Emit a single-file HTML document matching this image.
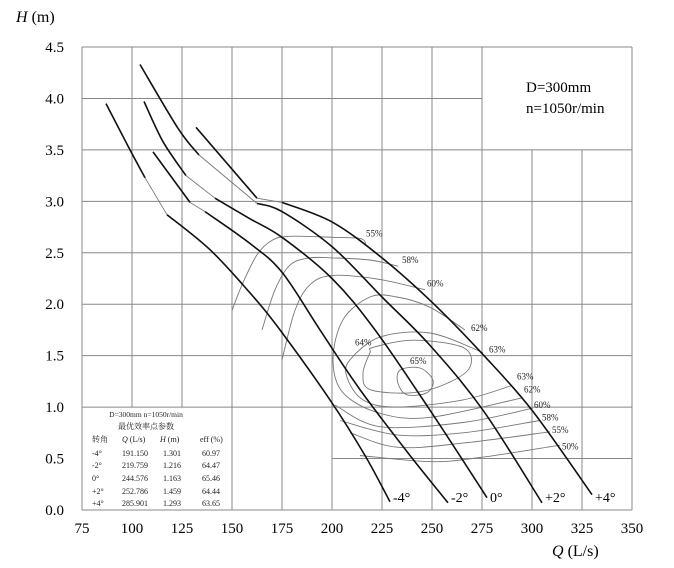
<!DOCTYPE html>
<html><head><meta charset="utf-8"><style>
html,body{margin:0;padding:0;background:#fff;}
svg{display:block;font-family:"Liberation Serif","Noto Serif CJK SC",serif;}
</style></head><body>
<svg id="chart" width="674" height="568" viewBox="0 0 674 568" xmlns="http://www.w3.org/2000/svg">
<g id="grid"></g>
<g id="contours"></g>
<g id="curves"></g>
<g id="axes"></g>
<text x="16" y="22" font-size="16"><tspan font-style="italic">H</tspan> (m)</text>
<text x="552" y="556" font-size="16"><tspan font-style="italic">Q</tspan>  (L/s)</text>
<text x="526" y="92" font-size="15">D=300mm</text>
<text x="526" y="113" font-size="15">n=1050r/min</text>
<g font-size="8" fill="#222">
<text x="146" y="417" text-anchor="middle" font-size="7.5">D=300mm   n=1050r/min</text>
<text x="146" y="429" text-anchor="middle">最优效率点参数</text>
<text x="92" y="442">转角</text>
<text x="122" y="442"><tspan font-style="italic">Q</tspan> (L/s)</text>
<text x="160" y="442"><tspan font-style="italic">H</tspan> (m)</text>
<text x="200" y="442">eff (%)</text>
<g id="tablerows"></g>
</g>
</svg>
<script>
// ---- data ----
var xTicks=[75,100,125,150,175,200,225,250,275,300,325,350];
var yTicks=[0.0,0.5,1.0,1.5,2.0,2.5,3.0,3.5,4.0,4.5];
var curveLabels=["-4°","-2°","0°","+2°","+4°"];
var topM4=[[87,3.95],[99,3.50],[106.5,3.23]];
var thinM4=[[106.5,3.23],[117.5,2.87]];
var mainM4=[[117.5,2.87],[139,2.53],[159,2.11],[174,1.75],[199,1.07],[216.5,0.53],[229,0.08]];
var topM2=[[110.5,3.48],[129,2.99]];
var thinM2=[[129,2.99],[136.5,2.90]];
var mainM2=[[136.5,2.90],[159,2.59],[175,2.31],[194,1.75],[214,1.17],[239,0.53],[258,0.07]];
var top0=[[106,3.97],[115.5,3.58],[127,3.25]];
var thin0=[[127,3.25],[141.5,3.03]];
var main0=[[141.5,3.03],[159,2.83],[175,2.65],[200,2.25],[221.5,1.75],[249,0.97],[277.5,0.12]];
var topP2=[[104,4.33],[123,3.71],[133.5,3.45]];
var thinP2=[[133.5,3.45],[162.5,2.98]];
var mainP2=[[162.5,2.98],[175,2.90],[200,2.56],[225,2.07],[249,1.60],[275.5,0.97],[305,0.07]];
var topP4=[[132,3.72],[162.5,3.03]];
var thinP4=[[162.5,3.03],[175,2.99]];
var mainP4=[[175,2.99],[200,2.80],[225,2.45],[250.5,2.01],[275.5,1.51],[300,0.97],[330,0.15]];
var e55u=[[150,1.94],[155.5,2.21],[162.5,2.48],[170,2.62],[179,2.66],[200.5,2.65],[214,2.64],[217,2.59]];
var e58u=[[165,1.75],[171.5,2.14],[179,2.38],[189,2.45],[200.5,2.45],[219,2.43],[233,2.37]];
var e60u=[[175,1.46],[181.5,1.94],[189,2.19],[200.5,2.28],[224,2.24],[246.5,2.14]];
var e62=[[266.5,1.75],[249,1.97],[232.5,2.07],[219,2.07],[205.5,1.85],[200.5,1.46],[205.5,1.14],[224,0.94],[249,0.90],[295,1.09]];
var e63=[[275.5,1.53],[249,1.72],[224,1.68],[209,1.46],[207.5,1.29],[215.5,1.07],[232.5,1.00],[265.5,1.07],[290,1.21]];
var e64=[[220.5,1.58],[240.5,1.65],[265.5,1.58],[269,1.39],[257.5,1.23],[240.5,1.14],[219,1.17],[215.5,1.33],[219,1.53]];
var e65=[[234,1.36],[244,1.38],[250.5,1.26],[247.5,1.14],[237.5,1.12],[233,1.23]];
var e60l=[[201.5,1.02],[224,0.81],[265.5,0.85],[300.5,0.99]];
var e58l=[[204,0.87],[232.5,0.73],[265.5,0.75],[304,0.87]];
var e55l=[[209,0.75],[232.5,0.61],[265.5,0.65],[309,0.76]];
var e50l=[[214,0.53],[249,0.47],[274,0.51],[314,0.63]];
var effLabels=["55%","58%","60%","62%","63%","64%","65%","63%","62%","60%","58%","55%","50%"];
var effLabelPos=[[217,2.66],[235,2.40],[247.5,2.17],[269.5,1.74],[278.5,1.53],[211.5,1.60],[239,1.42],[292.5,1.27],[296,1.14],[301,0.99],[305,0.87],[310,0.75],[315,0.59]];
var tblAngle=["-4°","-2°","0°","+2°","+4°"];
var tblQ=["191.150","219.759","244.576","252.786","285.901"];
var tblH=["1.301","1.216","1.163","1.459","1.293"];
var tblEff=["60.97","64.47","65.46","64.44","63.65"];
// ---- scales ----
var X0=82,X1=632,Y0=510,Y1=47;
function sx(q){return X0+(q-75)/(350-75)*(X1-X0);}
function sy(h){return Y0-h/4.5*(Y0-Y1);}
var NS="http://www.w3.org/2000/svg";
function mk(tag,parent,attrs){var e=document.createElementNS(NS,tag);for(var k in attrs)e.setAttribute(k,attrs[k]);parent.appendChild(e);return e;}
function smooth(pts,closed){
 var p=pts.map(function(d){return [sx(d[0]),sy(d[1])];});var n=p.length;
 if(n<3){return "M"+p.map(function(a){return a[0].toFixed(1)+","+a[1].toFixed(1);}).join("L");}
 var s="M"+p[0][0].toFixed(1)+","+p[0][1].toFixed(1);
 var m=closed?n:n-1;
 for(var i=0;i<m;i++){
  var p0=closed?p[(i-1+n)%n]:p[Math.max(i-1,0)],p1=p[i],p2=p[(i+1)%n],p3=closed?p[(i+2)%n]:p[Math.min(i+2,n-1)];
  var c1=[p1[0]+(p2[0]-p0[0])/6,p1[1]+(p2[1]-p0[1])/6],c2=[p2[0]-(p3[0]-p1[0])/6,p2[1]-(p3[1]-p1[1])/6];
  s+="C"+c1[0].toFixed(1)+","+c1[1].toFixed(1)+" "+c2[0].toFixed(1)+","+c2[1].toFixed(1)+" "+p2[0].toFixed(1)+","+p2[1].toFixed(1);
 }
 return s+(closed?"Z":"");
}
var grid=document.getElementById("grid");
xTicks.forEach(function(q){
 var x=sx(q),top=Y1,bot=Y0;
 if(q>=300&&q<350)top=sy(3.5);
 if(q>75&&q<150)bot=sy(1.0);
 var l=mk("line",grid,{x1:x,y1:top,x2:x,y2:bot,stroke:"#888","stroke-width":1});
 
 
});
yTicks.forEach(function(h){
 var x1=X0,x2=X1;
 if(h===4.0)x2=sx(275);
 if(h===0.5)x1=sx(200);
 var l=mk("line",grid,{x1:x1,y1:sy(h),x2:x2,y2:sy(h),stroke:"#888","stroke-width":1});
 
 
});
var axes=document.getElementById("axes");
xTicks.forEach(function(q){
 var t=mk("text",axes,{x:sx(q),y:533,"font-size":15,"text-anchor":"middle"});t.textContent=q;
 
 
});
yTicks.forEach(function(h){
 var t=mk("text",axes,{x:64,y:sy(h)+5,"font-size":15,"text-anchor":"end"});t.textContent=h.toFixed(1);
 
 
});
var cont=document.getElementById("contours");
[e55u,e58u,e60u,e62,e63,e60l,e58l,e55l,e50l].forEach(function(c){
 var p=mk("path",cont,{d:smooth(c,false),fill:"none",stroke:"#777","stroke-width":0.9});
 
 
});
[e64,e65].forEach(function(c){
 var p=mk("path",cont,{d:smooth(c,true),fill:"none",stroke:"#777","stroke-width":0.9});
 
 
});
effLabels.forEach(function(s,i){
 var t=mk("text",cont,{x:sx(effLabelPos[i][0]),y:sy(effLabelPos[i][1]),"font-size":9,fill:"#222"});t.textContent=s;
 
 
});
var cv=document.getElementById("curves");
var sets=[[topM4,thinM4,mainM4],[topM2,thinM2,mainM2],[top0,thin0,main0],[topP2,thinP2,mainP2],[topP4,thinP4,mainP4]];
sets.forEach(function(st,i){
 var a=mk("path",cv,{d:smooth(st[0],false),fill:"none",stroke:"#111","stroke-width":1.6});
 
 
 var b=mk("path",cv,{d:smooth(st[1],false),fill:"none",stroke:"#777","stroke-width":0.9});
 
 
 var c=mk("path",cv,{d:smooth(st[2],false),fill:"none",stroke:"#111","stroke-width":1.6});
 
 
 var last=st[2][st[2].length-1];
 var t=mk("text",cv,{x:sx(last[0])+3,y:502,"font-size":14});t.textContent=curveLabels[i];
 
 
});
var tr=document.getElementById("tablerows");
var rowY=[456,468,481,494,506];
tblAngle.forEach(function(a,i){
 var cols=[[92,a],[122,tblQ[i]],[163,tblH[i]],[202,tblEff[i]]];
 cols.forEach(function(c){
  var t=mk("text",tr,{x:c[0],y:rowY[i]});t.textContent=c[1];
  
  
 });
});
</script>
</body></html>
